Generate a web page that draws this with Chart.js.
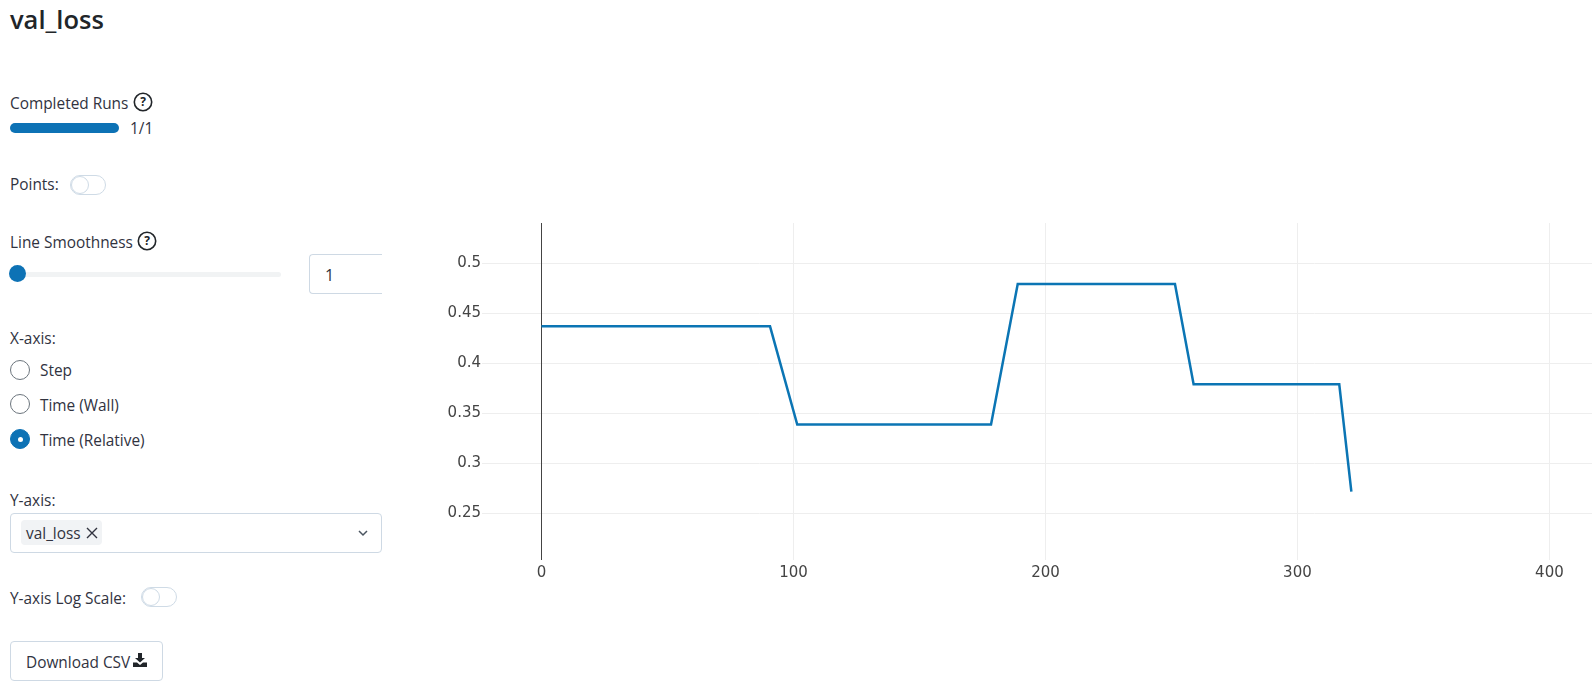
<!DOCTYPE html>
<html>
<head>
<meta charset="utf-8">
<title>val_loss</title>
<script src="https://cdn.jsdelivr.net/npm/chart.js@4/dist/chart.umd.min.js"></script>
<style>
    html, body { margin: 0; padding: 0; background: #fff; overflow: hidden; }
    body { width: 1592px; height: 697px; position: relative; font-family: "Open Sans", sans-serif; font-size: 15.4px; color: #31333f; }
    .abs { position: absolute; white-space: nowrap; line-height: 20px; }
    h1 { position: absolute; left: 10px; top: -1px; margin: 0; font-size: 25.5px; line-height: 40px; font-weight: 600; color: #212529; }
    .help { position: absolute; width: 20px; height: 20px; }
    .toggle { position: absolute; width: 34px; height: 18px; border: 1px solid #cfdbe6; border-radius: 10px; box-sizing: content-box; }
    .toggle::before { content: ''; position: absolute; left: 0; top: 0; width: 16px; height: 16px; border: 1px solid #cfdbe6; border-radius: 50%; background: #fff; }
    .radio { position: absolute; left: 10px; width: 18px; height: 18px; border: 1px solid #6c757d; border-radius: 50%; background: #fff; }
    .radio.on { border-color: #0d72b5; background: #0d72b5; }
    .radio.on::after { content: ''; position: absolute; left: 6.5px; top: 6.5px; width: 5px; height: 5px; border-radius: 50%; background: #fff; }
    .box { position: absolute; background: #fff; border: 1px solid #ced9e4; border-radius: 4px; box-sizing: border-box; }
    #chart-wrap { position: absolute; left: 420px; top: 210px; width: 1172px; height: 400px; }
</style>
</head>
<body>
<h1>val_loss</h1>

<div class="abs" style="left:10px;top:94px">Completed Runs</div>
<svg class="help" style="left:133px;top:92px" viewBox="0 0 20 20"><circle cx="10" cy="10" r="8.7" fill="none" stroke="#212529" stroke-width="1.6"/><text x="10" y="14.2" text-anchor="middle" font-family="Open Sans" font-size="12" font-weight="700" fill="#212529">?</text></svg>
<div style="position:absolute;left:10px;top:123px;width:109px;height:10px;border-radius:5px;background:#0d72b5"></div>
<div class="abs" style="left:130px;top:119px">1/1</div>

<div class="abs" style="left:10px;top:175px">Points:</div>
<div class="toggle" style="left:70px;top:175px"></div>

<div class="abs" style="left:10px;top:233px">Line Smoothness</div>
<svg class="help" style="left:137px;top:231px" viewBox="0 0 20 20"><circle cx="10" cy="10" r="8.7" fill="none" stroke="#212529" stroke-width="1.6"/><text x="10" y="14.2" text-anchor="middle" font-family="Open Sans" font-size="12" font-weight="700" fill="#212529">?</text></svg>
<div style="position:absolute;left:10px;top:272px;width:271px;height:5px;border-radius:3px;background:#f1f3f4"></div>
<div style="position:absolute;left:9px;top:265px;width:17px;height:17px;border-radius:50%;background:#0d72b5"></div>
<div class="box" style="left:309px;top:254px;width:73px;height:40px;border-right:none;border-radius:4px 0 0 4px"></div>
<div class="abs" style="left:325px;top:265px;font-size:16px">1</div>

<div class="abs" style="left:10px;top:329px">X-axis:</div>
<div class="radio" style="top:360px"></div>
<div class="abs" style="left:40px;top:361px">Step</div>
<div class="radio" style="top:394px"></div>
<div class="abs" style="left:40px;top:396px">Time (Wall)</div>
<div class="radio on" style="top:429px"></div>
<div class="abs" style="left:40px;top:431px">Time (Relative)</div>

<div class="abs" style="left:10px;top:491px">Y-axis:</div>
<div class="box" style="left:10px;top:513px;width:372px;height:40px"></div>
<div style="position:absolute;left:21px;top:520px;width:81px;height:25px;border-radius:4px;background:#f1f3f5"></div>
<div class="abs" style="left:26px;top:524px">val_loss</div>
<svg style="position:absolute;left:86px;top:527px;width:12px;height:12px" viewBox="0 0 12 12"><path d="M1 1L11 11M11 1L1 11" stroke="#31333f" stroke-width="1.4" fill="none"/></svg>
<svg style="position:absolute;left:358px;top:530px;width:10px;height:7px" viewBox="0 0 10 7"><path d="M1 1L5 5L9 1" stroke="#4a5560" stroke-width="1.5" fill="none"/></svg>

<div class="abs" style="left:10px;top:589px">Y-axis Log Scale:</div>
<div class="toggle" style="left:141px;top:587px"></div>

<div class="box" style="left:10px;top:641px;width:153px;height:40px"></div>
<div class="abs" style="left:26px;top:653px">Download CSV</div>
<svg style="position:absolute;left:132px;top:652px;width:16px;height:16px" viewBox="0 0 16 16"><path d="M6 1H10V6H13L8 10.5L3 6H6Z M1 10.5H5L8 13L11 10.5H15V15H1Z" fill="#212529"/></svg>

<div id="chart-wrap"><canvas id="chart"></canvas></div>

<script>
// Values
const xValues = [0, 90.7, 101.5, 178.4, 189, 251.4, 258.8, 316.6, 321.4];
const yValues = [0.437, 0.437, 0.3387, 0.3387, 0.4793, 0.4793, 0.379, 0.379, 0.2716];
const xTicks = [0, 100, 200, 300, 400];
const yTicks = [0.25, 0.3, 0.35, 0.4, 0.45, 0.5];

const GRID = '#eeeeee';
const LINE = '#0b75b4';
const TICK_FONT = { family: "'DejaVu Sans', sans-serif", size: 15 };

new Chart(document.getElementById('chart'), {
    type: 'line',
    data: {
        datasets: [{
            label: 'val_loss',
            data: xValues.map((x, i) => ({ x: x, y: yValues[i] })),
            borderColor: LINE,
            borderWidth: 2.5,
            pointRadius: 0,
            tension: 0,
            fill: false,
        }],
    },
    options: {
        responsive: true,
        maintainAspectRatio: false,
        animation: false,
        layout: { padding: { top: 13, right: 0 } },
        plugins: { legend: { display: false }, tooltip: { enabled: false } },
        scales: {
            x: {
                type: 'linear',
                min: -23.6,
                max: 416.9,
                afterBuildTicks: axis => { axis.ticks = xTicks.map(v => ({ value: v })); },
                afterFit: axis => { axis.height = 50; },
                border: { display: false },
                grid: {
                    color: ctx => ctx.tick && ctx.tick.value === 0 ? '#444444' : GRID,
                    drawTicks: false,
                },
                ticks: {
                    callback: v => String(v),
                    font: TICK_FONT,
                    color: '#444444',
                    padding: 4,
                    maxRotation: 0,
                    autoSkip: false,
                },
            },
            y: {
                min: 0.2033,
                max: 0.5403,
                afterBuildTicks: axis => { axis.ticks = yTicks.map(v => ({ value: v })); },
                afterFit: axis => { axis.width = 62; },
                border: { display: false },
                // keep the horizontal lines under the black zero line
                grid: { color: GRID, drawTicks: false, z: -2 },
                ticks: {
                    callback: v => String(v),
                    font: TICK_FONT,
                    color: '#444444',
                    padding: 1,
                    autoSkip: false,
                },
            },
        },
    },
});
</script>
</body>
</html>
